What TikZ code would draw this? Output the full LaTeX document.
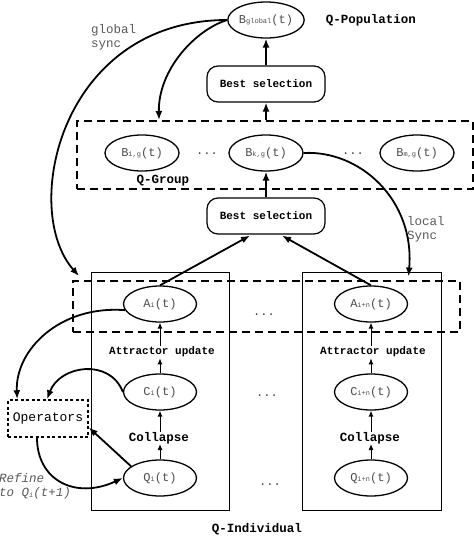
\documentclass[tikz,border=0pt]{standalone}
\usepackage{fontspec}
\setmainfont{Liberation Mono}
\usetikzlibrary{shapes.geometric,arrows.meta,calc}
\newcommand\sbs[1]{\raisebox{-0.8pt}{\fontsize{7}{7}\selectfont #1}}
\begin{document}
\begin{tikzpicture}[x=1pt,y=-1pt,
  ell/.style={draw,ellipse,line width=1.3pt,minimum width=74pt,minimum height=36pt,inner sep=0pt,text=black!70,font=\fontsize{12}{14}\selectfont},
  selbox/.style={draw,rounded corners=11pt,line width=1.2pt,minimum width=118pt,minimum height=36pt,inner sep=0pt,font=\bfseries\fontsize{11}{13}\selectfont},
  lbl/.style={font=\bfseries\fontsize{12.5}{14}\selectfont,inner sep=0pt},
  small/.style={font=\bfseries\fontsize{11}{13}\selectfont,inner sep=1pt},
  note/.style={text=black!65,font=\fontsize{12.5}{14}\selectfont,align=left,inner sep=0pt},
  dots/.style={text=black!75,font=\fontsize{12}{14}\selectfont,inner sep=0pt,anchor=base},
  dashbox/.style={draw,line width=2pt,dash pattern=on 8pt off 5pt,inner sep=0pt},
  indbox/.style={draw,line width=1pt,inner sep=0pt},
  arr/.style={line width=1.8pt,-{Latex[length=9pt,width=7pt]}},
  tarr/.style={line width=1pt,-{Latex[length=6pt,width=5pt]}}
]
\useasboundingbox (0,0) rectangle (474,536);

% individual boxes and dashed layers
\node[indbox,minimum width=138pt,minimum height=238pt] (lb) at (160,391) {};
\node[indbox,minimum width=139pt,minimum height=238pt] (rb) at (371.5,391) {};
\node[dashbox,minimum width=387pt,minimum height=51pt] (al) at (266.5,306.5) {};
\node[dashbox,minimum width=396pt,minimum height=68pt] (qg) at (275,155) {};

% population level
\node[ell] (bg) at (266,20) {B\sbs{global}(t)};
\node[lbl] (qp) at (371,20) {Q-Population};
\node[selbox] (bs1) at (266,84) {Best selection};
\node[note,anchor=west] (gs) at (91,37) {global\\sync};

% group level
\node[ell] (b1) at (142,153) {B\sbs{1,g}(t)};
\node[ell] (bk) at (266,153) {B\sbs{k,g}(t)};
\node[ell] (bm) at (417,153) {B\sbs{m,g}(t)};
\node[dots] (d1) at (207,154) {...};
\node[dots] (d2) at (353,154) {...};
\node[lbl] (qgl) at (163,181) {Q-Group};
\node[selbox] (bs2) at (266,216) {Best selection};
\node[note,anchor=west] (ls) at (407,229) {local\\Sync};

% individual level
\node[ell,minimum width=73pt] (ai) at (160,304) {A\sbs{i}(t)};
\node[ell,minimum width=73pt] (ci) at (160,392) {C\sbs{i}(t)};
\node[ell,minimum width=73pt] (qi) at (160,478) {Q\sbs{i}(t)};
\node[ell,minimum width=73pt] (ain) at (371,304) {A\sbs{i+n}(t)};
\node[ell,minimum width=73pt] (cin) at (371,392) {C\sbs{i+n}(t)};
\node[ell,minimum width=73pt] (qin) at (371,478) {Q\sbs{i+n}(t)};
\node[small] (au1) at (162,352) {Attractor update};
\node[small] (au2) at (373,352) {Attractor update};
\node[lbl] (co1) at (159,438) {Collapse};
\node[lbl] (co2) at (370,438) {Collapse};
\node[dots] (d3) at (264,315) {...};
\node[dots] (d4) at (267,396) {...};
\node[dots] (d5) at (270,485) {...};
\node[lbl] (qil) at (257,529) {Q-Individual};

% operators
\node[draw,line width=1.6pt,dash pattern=on 3pt off 2.5pt,minimum width=80pt,minimum height=37pt,inner sep=0pt,font=\fontsize{13}{15}\selectfont] (op) at (48,418.5) {Operators};
\node[note,anchor=west,font=\itshape\fontsize{12.5}{14}\selectfont] (rf) at (-1,486) {Refine\\to Q\sbs{i}(t+1)};

% coordinates for free ends
\coordinate (gsEnd) at ($(al.north west)+(7,-4)$);
\coordinate (qgIn) at ($(qg.north west)+(83,0)$);
\coordinate (lsEnd) at ($(rb.north west)+(107,5)$);
\coordinate (bs2a) at ($(bs2.south)+(-16,1)$);
\coordinate (bs2b) at ($(bs2.south)+(16,1)$);

% vertical arrows
\draw[arr] (bs1.north) -- (bg.south);
\draw[arr] (bs1.south |- qg.north) -- (bs1.south);
\draw[arr] (bs2.north) -- (bk.south);
\draw[arr] (ai.north) -- (bs2a);
\draw[arr] (ain.north) -- (bs2b);

\draw[tarr] (au1.north -| ai.south) -- (ai.south);
\draw[tarr] (ci.north) -- (au1.south -| ci.north);
\draw[tarr] (co1.north -| ci.south) -- (ci.south);
\draw[tarr] (qi.north) -- (co1.south -| qi.north);
\draw[tarr] (au2.north -| ain.south) -- (ain.south);
\draw[tarr] (cin.north) -- (au2.south -| cin.north);
\draw[tarr] (co2.north -| cin.south) -- (cin.south);
\draw[tarr] (qin.north) -- (co2.south -| qin.north);

% sync curves
\draw[arr] (bg.west) .. controls (60,20) and (20,210) .. (gsEnd);
\draw[arr] (bg.west) .. controls (195,30) and (158,70) .. (qgIn);
\draw[arr] (bk.east) .. controls (360,150) and (415,200) .. (lsEnd);

% operator curves
\draw[arr] (ai.190) .. controls (60,305) and (15,350) .. ($(op.north west)+(10,0)$);
\draw[arr] (ci.west) .. controls (110,358) and (60,365) .. ($(op.north)+(-1,0)$);
\draw[arr] (qi.158) -- ($(op.east)+(0,9)$);
\draw[arr] ($(op.south)+(-11,0)$) .. controls (37,480) and (75,500) .. (qi.west);
\end{tikzpicture}
\end{document}
